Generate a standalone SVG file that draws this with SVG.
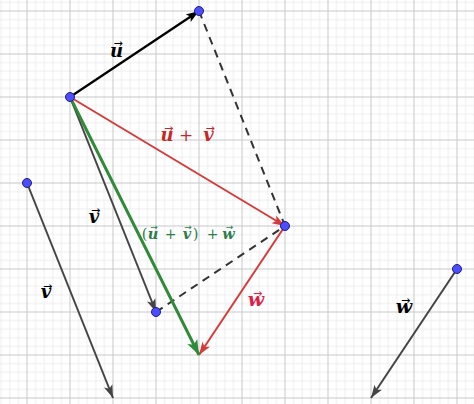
<svg xmlns="http://www.w3.org/2000/svg" width="474" height="404" viewBox="0 0 474 404">
<defs>
<pattern id="grid" patternUnits="userSpaceOnUse" x="26.5" y="10.5" width="43" height="43">
<path d="M9.1 0V43M17.7 0V43M26.3 0V43M34.9 0V43M0 9.1H43M0 17.7H43M0 26.3H43M0 34.9H43" stroke="#ededed" stroke-width="1" fill="none"/>
<path d="M0.5 0V43M0 0.5H43" stroke="#c8c8c8" stroke-width="1" fill="none"/>
</pattern>
<marker id="ak" markerUnits="userSpaceOnUse" markerWidth="16" markerHeight="12" refX="14" refY="6" orient="auto" overflow="visible"><path d="M14 6L1 1.5L4 6L1 10.5Z" fill="#000"/></marker>
<marker id="ag" markerUnits="userSpaceOnUse" markerWidth="16" markerHeight="12" refX="14" refY="6" orient="auto" overflow="visible"><path d="M14 6L1 1.5L4 6L1 10.5Z" fill="#444"/></marker>
<marker id="ar" markerUnits="userSpaceOnUse" markerWidth="16" markerHeight="12" refX="14" refY="6" orient="auto" overflow="visible"><path d="M14 6L1 1.5L4 6L1 10.5Z" fill="#d63b3b"/></marker>
<marker id="agr" markerUnits="userSpaceOnUse" markerWidth="18" markerHeight="14" refX="16" refY="7" orient="auto" overflow="visible"><path d="M16 7L1 1.5L4.5 7L1 12.5Z" fill="#2f8a3a"/></marker>
</defs>
<style>
.l{font-family:"DejaVu Serif","Liberation Serif",serif;font-weight:bold;font-style:italic;text-anchor:middle}
.op{font-family:"DejaVu Serif","Liberation Serif",serif;font-weight:normal;font-style:normal}
.ar{font-family:"DejaVu Sans","Liberation Sans",sans-serif;font-weight:normal;font-style:normal}
.pt{fill:#4d4dff;stroke:#1f1f7a;stroke-width:1}
</style>
<rect width="474" height="404" fill="#fff"/>
<rect width="474" height="404" fill="url(#grid)"/>
<g id="connectors" fill="none" stroke-linecap="butt">
<path d="M199 11L285 226" stroke="#333" stroke-width="2" stroke-dasharray="8,6"/>
<path d="M156 312L285 226" stroke="#333" stroke-width="2" stroke-dasharray="8,6"/>
<path d="M70 97L199 11" stroke="#000" stroke-width="2.2" marker-end="url(#ak)"/>
<path d="M70 97L285 226" stroke="#d63b3b" stroke-width="2" marker-end="url(#ar)"/>
<path d="M70 97L156 312" stroke="#444" stroke-width="2" marker-end="url(#ag)"/>
<path d="M285 226L199 355" stroke="#d63b3b" stroke-width="2" marker-end="url(#ar)"/>
<path d="M70 97L199 355" stroke="#2f8a3a" stroke-width="3" marker-end="url(#agr)"/>
<path d="M27 183L113 398" stroke="#444" stroke-width="2" marker-end="url(#ag)"/>
<path d="M457 269L371 398" stroke="#444" stroke-width="2" marker-end="url(#ag)"/>
</g>
<g id="pA"><circle class="pt" cx="70" cy="97" r="4.5"/></g>
<g id="pT"><circle class="pt" cx="199" cy="11" r="4.5"/></g>
<g id="pC"><circle class="pt" cx="285" cy="226" r="4.5"/></g>
<g id="pD"><circle class="pt" cx="156" cy="312" r="4.5"/></g>
<g id="pV"><circle class="pt" cx="27" cy="183" r="4.5"/></g>
<g id="pW"><circle class="pt" cx="457" cy="269" r="4.5"/></g>
<g id="labels">
<text id="label-u" class="l" x="116.5" y="57" font-size="18" fill="#000">u<tspan class="ar" x="118" y="46.5" font-size="11">→</tspan></text>
<text id="label-uv" class="l" font-size="18" fill="#c62828"><tspan x="167" y="141">u</tspan><tspan class="op" x="186" y="141" font-size="17">+</tspan><tspan x="208.5" y="141">v</tspan><tspan class="ar" x="168.5" y="131.5" font-size="11">→</tspan><tspan class="ar" x="210" y="131.5" font-size="11">→</tspan></text>
<text id="label-uvw" class="l" font-size="14.5" fill="#2e7d4a"><tspan class="op" x="144.5" y="239">(</tspan><tspan x="153" y="239">u</tspan><tspan class="op" x="170.5" y="239" font-size="14">+</tspan><tspan x="187" y="239">v</tspan><tspan class="op" x="195.5" y="239">)</tspan><tspan class="op" x="212.5" y="239" font-size="14">+</tspan><tspan x="228.5" y="239">w</tspan><tspan class="ar" x="154" y="230" font-size="9">→</tspan><tspan class="ar" x="188" y="230" font-size="9">→</tspan><tspan class="ar" x="229.5" y="230" font-size="9">→</tspan></text>
<text id="label-w" class="l" x="256" y="306" font-size="19" fill="#dc1f4a">w<tspan class="ar" x="257.5" y="296.5" font-size="11">→</tspan></text>
<text id="label-v1" class="l" x="94" y="223" font-size="18" fill="#000">v<tspan class="ar" x="95.5" y="214" font-size="11">→</tspan></text>
<text id="label-v2" class="l" x="46" y="298" font-size="18" fill="#000">v<tspan class="ar" x="47.5" y="289.5" font-size="11">→</tspan></text>
<text id="label-w2" class="l" x="404" y="313" font-size="19" fill="#000">w<tspan class="ar" x="405.5" y="304" font-size="11">→</tspan></text>
</g>
</svg>
